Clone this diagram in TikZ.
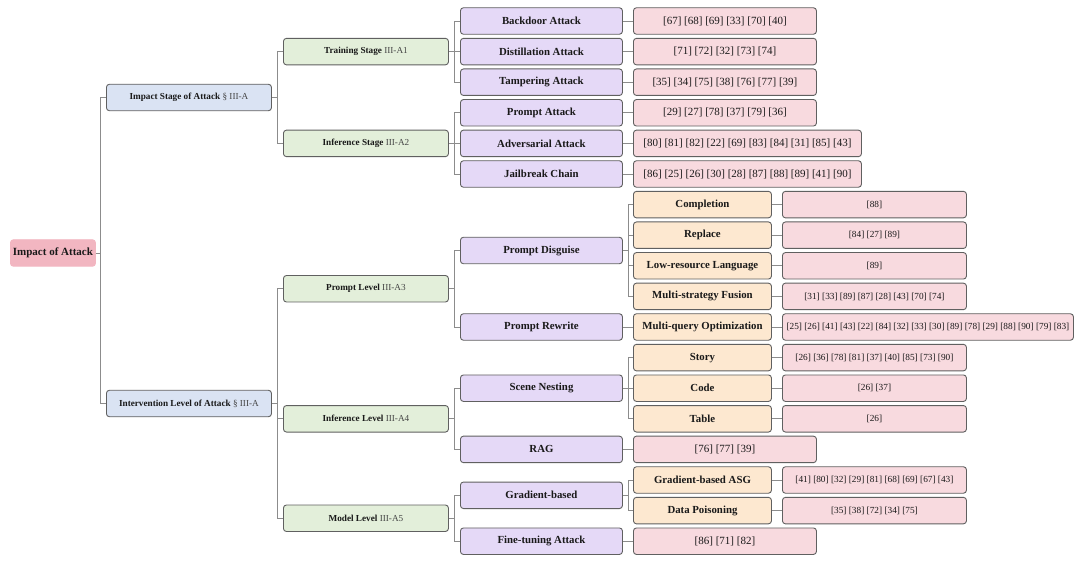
\documentclass[tikz,border=0pt]{standalone}
\usepackage{fontspec}
\setmainfont{Liberation Serif}
\definecolor{rootc}{HTML}{F2B6C1}
\definecolor{lonec}{HTML}{DAE3F3}
\definecolor{ltwoc}{HTML}{E3EFDA}
\definecolor{lthreec}{HTML}{E5D9F7}
\definecolor{lfourc}{HTML}{FDE8D0}
\definecolor{leafc}{HTML}{F8DADF}
\definecolor{bordc}{HTML}{606060}
\definecolor{connc}{HTML}{8C8C8C}
\definecolor{secc}{HTML}{454545}
\newcommand{\sref}[1]{{\mdseries\color{secc}#1}}
\tikzset{
  box/.style={draw=bordc, line width=0.9pt, rounded corners=3pt, minimum height=26.5pt, inner sep=2pt, anchor=west, text=black!90, align=center},
  rootbox/.style={box, draw=rootc, fill=rootc, minimum width=85pt, font=\fontsize{11}{13}\selectfont\bfseries},
  lone/.style={box, fill=lonec, minimum width=165pt, font=\fontsize{9.2}{11}\selectfont\bfseries},
  ltwo/.style={box, fill=ltwoc, minimum width=165pt, font=\fontsize{9.2}{11}\selectfont\bfseries},
  lthree/.style={box, fill=lthreec, minimum width=162pt, font=\fontsize{10.8}{13}\selectfont\bfseries},
  lfour/.style={box, fill=lfourc, minimum width=138pt, font=\fontsize{10.8}{13}\selectfont\bfseries},
  bigleaf/.style={box, fill=leafc, minimum width=183pt, font=\fontsize{11}{13}\selectfont},
  smallleaf/.style={box, fill=leafc, minimum width=184pt, font=\fontsize{9.3}{11}\selectfont},
  conn/.style={draw=connc, line width=0.8pt},
}
\begin{document}
\begin{tikzpicture}[x=1pt,y=-1pt]
\useasboundingbox (0,0) rectangle (1080,564);
% root
\node[rootbox] (root) at (10,253) {Impact of Attack};
% level 1
\node[lone] (isa) at (106,97.5) {Impact Stage of Attack \sref{§ III-A}};
\node[lone] (ila) at (106,403.5) {Intervention Level of Attack \sref{§ III-A}};
% level 2
\node[ltwo] (ts) at (283,51.6) {Training Stage \sref{III-A1}};
\node[ltwo] (is) at (283,143.4) {Inference Stage \sref{III-A2}};
\node[ltwo] (pl) at (283,288.75) {Prompt Level \sref{III-A3}};
\node[ltwo] (il) at (283,418.8) {Inference Level \sref{III-A4}};
\node[ltwo] (ml) at (283,518.25) {Model Level \sref{III-A5}};
% level 3
\node[lthree] (ba) at (460,21) {Backdoor Attack};
\node[lthree] (da) at (460,51.6) {Distillation Attack};
\node[lthree] (ta) at (460,82.2) {Tampering Attack};
\node[lthree] (pa) at (460,112.8) {Prompt Attack};
\node[lthree] (aa) at (460,143.4) {Adversarial Attack};
\node[lthree] (jc) at (460,174) {Jailbreak Chain};
\node[lthree] (pd) at (460,250.5) {Prompt Disguise};
\node[lthree] (pr) at (460,327) {Prompt Rewrite};
\node[lthree] (sn) at (460,388.2) {Scene Nesting};
\node[lthree] (rag) at (460,449.4) {RAG};
\node[lthree] (gb) at (460,495.3) {Gradient-based};
\node[lthree] (ft) at (460,541.2) {Fine-tuning Attack};
% level 4
\node[lfour] (co) at (633,204.6) {Completion};
\node[lfour] (re) at (633,235.2) {Replace};
\node[lfour] (lr) at (633,265.8) {Low-resource Language};
\node[lfour] (ms) at (633,296.4) {Multi-strategy Fusion};
\node[lfour] (mq) at (633,327) {Multi-query Optimization};
\node[lfour] (st) at (633,357.6) {Story};
\node[lfour] (cd) at (633,388.2) {Code};
\node[lfour] (tb) at (633,418.8) {Table};
\node[lfour] (ga) at (633,480) {Gradient-based ASG};
\node[lfour] (dp) at (633,510.6) {Data Poisoning};
% leaves of level 3
\node[bigleaf] (rba) at (633,21) {[67] [68] [69] [33] [70] [40]};
\node[bigleaf] (rda) at (633,51.6) {[71] [72] [32] [73] [74]};
\node[bigleaf] (rta) at (633,82.2) {[35] [34] [75] [38] [76] [77] [39]};
\node[bigleaf] (rpa) at (633,112.8) {[29] [27] [78] [37] [79] [36]};
\node[bigleaf, minimum width=228pt] (raa) at (633,143.4) {[80] [81] [82] [22] [69] [83] [84] [31] [85] [43]};
\node[bigleaf, minimum width=228pt] (rjc) at (633,174) {[86] [25] [26] [30] [28] [87] [88] [89] [41] [90]};
\node[bigleaf] (rrag) at (633,449.4) {[76] [77] [39]};
\node[bigleaf] (rft) at (633,541.2) {[86] [71] [82]};
% leaves of level 4
\node[smallleaf] (rco) at (782,204.6) {[88]};
\node[smallleaf] (rre) at (782,235.2) {[84] [27] [89]};
\node[smallleaf] (rlr) at (782,265.8) {[89]};
\node[smallleaf] (rms) at (782,296.4) {[31] [33] [89] [87] [28] [43] [70] [74]};
\node[smallleaf, minimum width=291pt, inner xsep=1pt] (rmq) at (782,327) {[25] [26] [41] [43] [22] [84] [32] [33] [30] [89] [78] [29] [88] [90] [79] [83]};
\node[smallleaf] (rst) at (782,357.6) {[26] [36] [78] [81] [37] [40] [85] [73] [90]};
\node[smallleaf] (rcd) at (782,388.2) {[26] [37]};
\node[smallleaf] (rtb) at (782,418.8) {[26]};
\node[smallleaf] (rga) at (782,480) {[41] [80] [32] [29] [81] [68] [69] [67] [43]};
\node[smallleaf] (rdp) at (782,510.6) {[35] [38] [72] [34] [75]};
% connectors root -> level 1
\foreach \c in {isa,ila} \draw[conn] (root.east) -- ++(4,0) |- (\c.west);
% level 1 -> level 2
\foreach \c in {ts,is} \draw[conn] (isa.east) -- ++(5,0) |- (\c.west);
\foreach \c in {pl,il,ml} \draw[conn] (ila.east) -- ++(5,0) |- (\c.west);
% level 2 -> level 3
\foreach \c in {ba,da,ta} \draw[conn] (ts.east) -- ++(5,0) |- (\c.west);
\foreach \c in {pa,aa,jc} \draw[conn] (is.east) -- ++(5,0) |- (\c.west);
\foreach \c in {pd,pr} \draw[conn] (pl.east) -- ++(5,0) |- (\c.west);
\foreach \c in {sn,rag} \draw[conn] (il.east) -- ++(5,0) |- (\c.west);
\foreach \c in {gb,ft} \draw[conn] (ml.east) -- ++(5,0) |- (\c.west);
% level 3 -> level 4
\foreach \c in {co,re,lr,ms} \draw[conn] (pd.east) -- ++(5,0) |- (\c.west);
\draw[conn] (pr.east) -- (mq.west);
\foreach \c in {st,cd,tb} \draw[conn] (sn.east) -- ++(5,0) |- (\c.west);
\foreach \c in {ga,dp} \draw[conn] (gb.east) -- ++(5,0) |- (\c.west);
% level 3 -> leaves
\foreach \a/\b in {ba/rba,da/rda,ta/rta,pa/rpa,aa/raa,jc/rjc,rag/rrag,ft/rft}
  \draw[conn] (\a.east) -- (\b.west);
% level 4 -> leaves
\foreach \a/\b in {co/rco,re/rre,lr/rlr,ms/rms,mq/rmq,st/rst,cd/rcd,tb/rtb,ga/rga,dp/rdp}
  \draw[conn] (\a.east) -- (\b.west);
\end{tikzpicture}
\end{document}
